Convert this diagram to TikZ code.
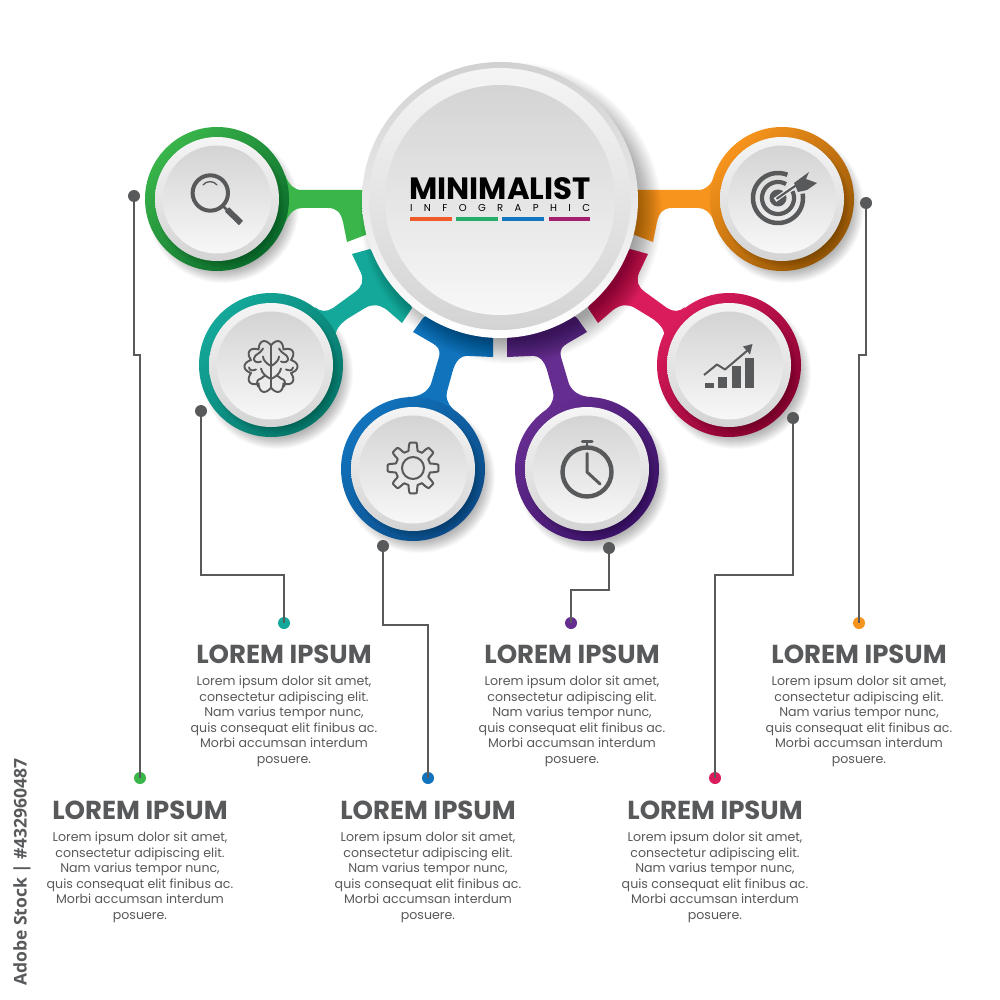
\documentclass[tikz,border=0pt]{standalone}
\usepackage{fontspec}
\setmainfont{Poppins}
\newfontfamily\capfont{Open Sans}
\definecolor{ink}{HTML}{58595B}
\definecolor{cG}{HTML}{39B54A}\definecolor{dG}{HTML}{0A6A2B}
\definecolor{cT}{HTML}{14A89A}\definecolor{dT}{HTML}{067568}
\definecolor{cB}{HTML}{1173BC}\definecolor{dB}{HTML}{0C4A86}
\definecolor{cP}{HTML}{662D91}\definecolor{dP}{HTML}{3A1266}
\definecolor{cM}{HTML}{DA1C5C}\definecolor{dM}{HTML}{85002F}
\definecolor{cO}{HTML}{F7941D}\definecolor{dO}{HTML}{935504}
\definecolor{bA}{HTML}{F15A29}\definecolor{bB}{HTML}{27AE6B}
\definecolor{bC}{HTML}{1277BF}\definecolor{bD}{HTML}{A61E6E}
\tikzset{
 x=1pt,y=-1pt,
 lead/.style={draw=ink,line width=1.5pt},
 pin/.style={circle,inner sep=0pt,minimum size=12pt,fill=#1},
 icon/.style={draw=ink,line width=2pt,line cap=round,line join=round},
 headtxt/.style={font=\bfseries\fontsize{26}{28}\selectfont,text=ink,inner sep=0pt},
 bodytxt/.style={font=\fontsize{12.6}{15.5}\selectfont,text=ink,align=center,inner sep=0pt},
}
% soft shadow: x, y, largest radius, number of 1px steps, opacity of each step
\newcommand{\softshadow}[5]{\foreach \k in {1,...,#4}{\fill[black,opacity=#5] (#1,#2) circle[radius={#3-\k}];}}
\newcommand{\colordisc}[4]{% x,y,color,dark
 \shade[shading=axis,bottom color=#3,middle color=#3,top color=#4,shading angle=225]
   (#1,#2) circle[radius=72pt];}
\newcommand{\discshadow}[2]{\softshadow{#1+6}{#2+8}{77}{14}{0.022}}
\newcommand{\face}[2]{%
 \softshadow{#1+3}{#2+4}{66}{8}{0.025}
 \shade[top color=white!96!black,bottom color=black!17] (#1,#2) circle[radius=62pt];
 \shade[top color=black!17,bottom color=white!97!black] (#1,#2+0.5) circle[radius=54pt];}
\newcommand{\greenbar}{(285,175) .. controls (289,185) and (294,190) .. (302,190) -- (372,190) -- (372,232.5) -- (347,242) -- (343,222) .. controls (341,213) and (337,208) .. (328,208) -- (302,208) .. controls (295,208) and (290,212) .. (285,223) -- cycle}
\newcommand{\tealbar}{(315,307) .. controls (320,312) and (327,312) .. (333,308) -- (355,292) .. controls (362,287) and (364,281) .. (361,273) -- (352,254) -- (370,249) -- (400,280) -- (412,308) -- (402,323) -- (387,310) .. controls (379,304) and (372,304) .. (365,308) -- (347,319) .. controls (339,325) and (335,330) .. (335,340) -- cycle}
\newcommand{\bluebar}{(408,397) .. controls (418,397) and (427,393) .. (431,384) -- (439,357) .. controls (441,349) and (437,346) .. (432,343) -- (413,332) -- (423,318) -- (450,300) -- (493,300) -- (493,357) -- (470,356) .. controls (460,355) and (456,361) .. (453,370) -- (448,388) .. controls (445,397) and (447,403) .. (453,409) -- cycle}
\newcommand{\infoblock}[3]{% name,x,y(title)
 \node[headtxt] (#1h) at (#2,#3) {LOREM IPSUM};
 \node[bodytxt] (#1b) at (#2,#3+67.5) {Lorem ipsum dolor sit amet,\\consectetur adipiscing elit.\\Nam varius tempor nunc,\\quis consequat elit finibus ac.\\Morbi accumsan interdum\\posuere.};}
\begin{document}
\begin{tikzpicture}
\useasboundingbox (0,0) rectangle (1000,1000);
\fill[white] (0,0) rectangle (1000,1000);
% disc shadows
\discshadow{217}{199}\discshadow{271}{365}\discshadow{413}{469}
\discshadow{587}{469}\discshadow{729}{365}\discshadow{782}{199}
% connectors
\fill[cG] \greenbar; \fill[cT] \tealbar; \fill[cB] \bluebar;
\begin{scope}[xshift=1000pt,xscale=-1]
\fill[cO] \greenbar; \fill[cM] \tealbar; \fill[cP] \bluebar;
\end{scope}
% discs
\colordisc{217}{199}{cG}{dG}\colordisc{271}{365}{cT}{dT}\colordisc{413}{469}{cB}{dB}
\colordisc{587}{469}{cP}{dP}\colordisc{729}{365}{cM}{dM}\colordisc{782}{199}{cO}{dO}
\face{217}{199}\face{271}{365}\face{413}{469}\face{587}{469}\face{729}{365}\face{782}{199}
% main circle
\softshadow{511}{213}{152}{26}{0.016}
\shade[top color=black!18,bottom color=white] (500,200) circle[radius=138pt];
\shade[top color=white!96!black,bottom color=black!17] (500,199) circle[radius=131pt];
\shade[top color=black!17,bottom color=white!97!black] (500,200) circle[radius=115pt];
\node[font=\bfseries\fontsize{30.8}{32}\selectfont,text=black,inner sep=0pt] (mtitle) at (500,188.5) {MINIMALIST};
\node[font=\fontsize{10}{10}\selectfont,text=black,inner sep=0pt] (msub) at (500,208.5) {\makebox[180pt][s]{I\hfil N\hfil F\hfil O\hfil G\hfil R\hfil A\hfil P\hfil H\hfil I\hfil C}};
\fill[bA] (410,217) rectangle (452,221.5);
\fill[bB] (456,217) rectangle (498,221.5);
\fill[bC] (502,217) rectangle (544,221.5);
\fill[bD] (548.5,217) rectangle (590,221.5);
% magnifier
\draw[icon,line width=4pt] (210.3,193) circle[radius=17.7pt];
\draw[icon,line width=2.5pt,line cap=butt] (222.5,205.5) -- (229,212);
\draw[icon,line width=6pt,line cap=butt] (227,209.5) -- (241,223);
\draw[icon,line width=1.3pt] (203,185) .. controls (206,180.5) and (214,180.5) .. (217,185);
% brain
\begin{scope}[shift={(271,366.5)},icon,line width=1.9pt]
 \foreach \s in {1,-1}{
 \begin{scope}[xscale=\s]
 \draw plot[domain=-90:90,samples=91] ({(21+5.5*abs(sin(5*(\x+90))))*cos(\x)},{(21+5.5*abs(sin(5*(\x+90))))*sin(\x)});
 \draw (0.5,-21) -- (0.5,21);
 \draw (8,-18) .. controls (11,-12) and (16,-13) .. (17,-8);
 \draw (17,-8) .. controls (18,-5) and (13,-3) .. (10,-5);
 \draw (1,-1) .. controls (4,-3) and (8,-6) .. (8,-10);
 \draw (15,3) .. controls (18,4) and (21,5) .. (22,1);
 \draw (1,12) .. controls (5,10) and (9,7) .. (10,2);
 \draw (6,9) -- (10,12) .. controls (14,13) and (15,16) .. (13,20);
 \end{scope}}
\end{scope}
% gear
\draw[icon] plot[smooth cycle,samples=145,domain=0:357.5] ({413+(21.5+min(4,max(-4,9*cos(8*\x))))*cos(\x)},{468+(21.5+min(4,max(-4,9*cos(8*\x))))*sin(\x)});
\draw[icon] (413,468) circle[radius=11pt];
% stopwatch
\draw[icon,line width=4.4pt] (587,472) circle[radius=24.5pt];
\draw[icon,line width=2.4pt,line cap=butt] (587,442) -- (587,447);
\draw[icon,line width=3.4pt,line cap=round] (582.5,441.5) -- (592,441.5);
\draw[icon,line width=3pt,line cap=round] (587,453.5) -- (587,472) -- (600,484);
% chart
\fill[ink] (705,383) rectangle (714,388);
\fill[ink] (718,377) rectangle (727,388);
\fill[ink] (732,366) rectangle (741,388);
\fill[ink] (745,358) rectangle (754,388);
\draw[icon,line cap=butt] (704,375) -- (717,364.5) -- (725,369.5) -- (748,350);
\fill[ink] (752.5,344) -- (743,346.5) -- (750,354.5) -- cycle;
% target
\begin{scope}[shift={(778,198)}]
\draw[icon,line width=4.5pt,line cap=butt] plot[smooth,samples=70,domain=68:370] ({25*cos(\x)},{-25*sin(\x)});
\draw[icon,line width=4.2pt,line cap=butt] plot[smooth,samples=60,domain=60:385] ({16*cos(\x)},{-16*sin(\x)});
\fill[ink] (0,0) circle[radius=8.5pt];
\draw[line width=4.5pt,draw=black!7] (-3,2) -- (18,-13);
\draw[ink,line width=2.2pt,line cap=round] (-1,0.5) -- (20,-14);
\fill[ink] (16,-15) -- (31,-26) -- (28,-19) -- (39,-15) -- (29,-8) -- (20,-6) -- cycle;
\end{scope}
% leader pins
\node[pin=ink] (gtop) at (134,196) {};
\node[pin=cG]  (gend) at (140,778) {};
\node[pin=ink] (ttop) at (201,411) {};
\node[pin=cT]  (tend) at (284,623) {};
\node[pin=ink] (btop) at (383,546) {};
\node[pin=cB]  (bend) at (428,778) {};
\node[pin=ink] (ptop) at (609,548) {};
\node[pin=cP]  (pend) at (571,623) {};
\node[pin=ink] (mtop) at (793,418) {};
\node[pin=cM]  (mend) at (715,778) {};
\node[pin=ink] (otop) at (866,203) {};
\node[pin=cO]  (oend) at (859,623) {};
\draw[lead] (gtop.center) -- (134,355) -- (140,355) -- (gend.center);
\draw[lead] (ttop.center) -- (201,575) -- (284,575) -- (tend.center);
\draw[lead] (btop.center) -- (383,625) -- (428,625) -- (bend.center);
\draw[lead] (ptop.center) -- (609,590) -- (571,590) -- (pend.center);
\draw[lead] (mtop.center) -- (793,575) -- (715,575) -- (mend.center);
\draw[lead] (otop.center) -- (866,355) -- (859,355) -- (oend.center);
% text blocks
\infoblock{t}{284}{654}
\infoblock{p}{572}{654}
\infoblock{o}{859}{654}
\infoblock{g}{140}{810}
\infoblock{b}{428}{810}
\infoblock{m}{715}{810}
\node[rotate=90,font=\capfont\bfseries\fontsize{17.5}{20}\selectfont,text=ink,inner sep=0pt] (stock) at (22,872) {Adobe Stock | \#432960487};
\end{tikzpicture}
\end{document}
